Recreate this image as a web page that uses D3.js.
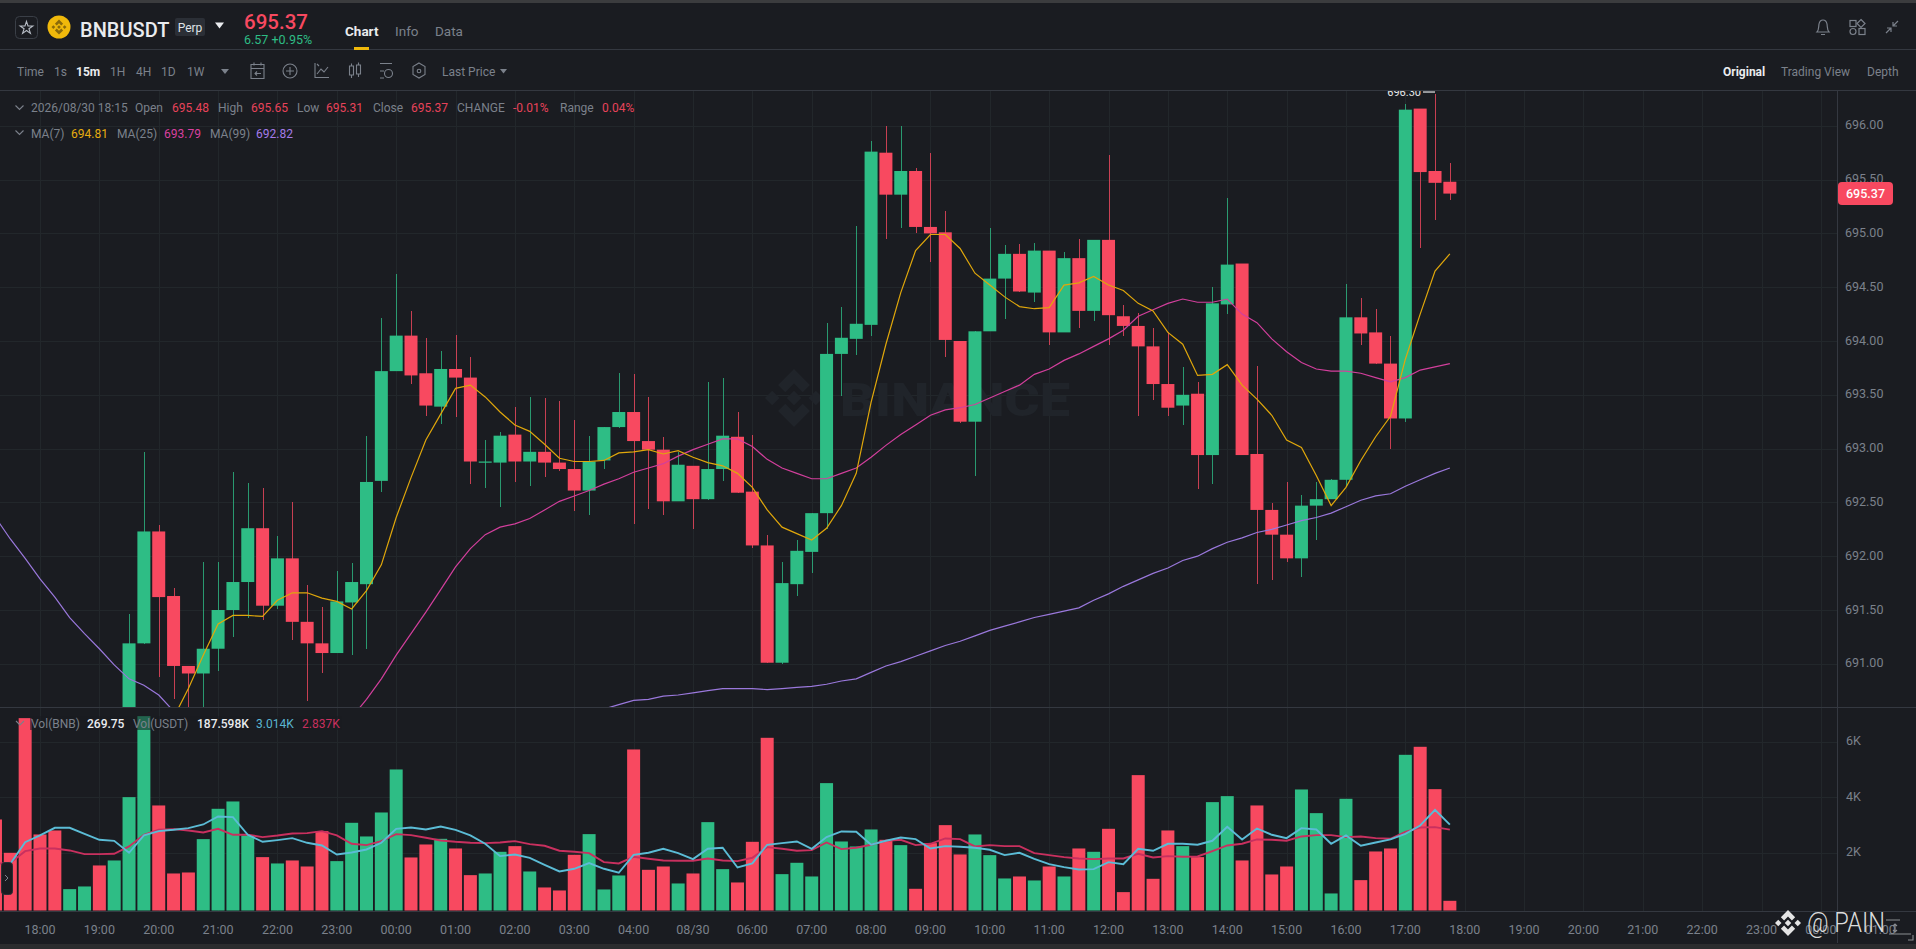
<!DOCTYPE html>
<html><head><meta charset="utf-8">
<script src="https://cdn.jsdelivr.net/npm/d3@7"></script>
<style>html,body{margin:0;padding:0;background:#1a1c21;overflow:hidden}svg{display:block}text{font-family:Roboto,sans-serif}</style>
</head><body><svg id="c" width="1916" height="949"></svg>
<script>
// candles start at 19:30 (slot 6 of the axis); earlier ones lie below the visible price range
const candleStart = 6;
const opens = [690.38,691.19,692.23,691.63,690.98,690.91,691.14,691.50,691.76,692.26,691.54,691.98,691.39,691.19,691.10,691.57,691.74,692.70,693.72,694.05,693.70,693.39,693.74,693.66,692.87,692.87,693.13,692.88,692.97,692.87,692.81,692.61,692.89,693.20,693.34,693.07,692.99,692.51,692.84,692.53,692.81,693.11,692.60,692.10,691.01,691.74,692.04,692.40,693.88,694.02,694.15,695.75,695.36,695.58,695.06,695.01,694.00,693.25,694.09,694.58,694.81,694.45,694.84,694.08,694.77,694.28,694.94,694.23,694.14,693.95,693.60,693.40,693.51,692.94,694.34,694.72,692.95,692.43,692.20,691.98,692.47,692.53,692.71,694.22,694.08,693.79,693.28,696.16,695.58,695.48];
const highs = [691.46,692.97,692.29,691.70,690.98,691.95,691.95,692.78,692.68,692.63,692.19,692.50,691.73,691.53,691.86,691.94,693.12,694.21,694.62,694.28,694.03,693.91,694.06,693.85,693.08,693.15,693.39,693.48,693.47,693.44,693.27,693.12,693.20,693.70,693.69,693.48,693.11,692.97,692.84,693.62,693.66,693.34,693.13,692.20,691.95,692.15,692.40,694.17,694.32,695.07,695.86,696.00,696.00,695.61,695.75,695.21,694.00,694.09,695.05,694.89,694.90,694.91,694.84,694.83,694.95,694.94,695.73,694.33,694.26,694.12,694.08,693.76,693.62,694.50,695.33,694.72,693.77,692.49,692.69,692.57,692.69,692.72,694.53,694.40,694.30,694.05,696.20,696.16,696.30,695.65];
const lows = [690.26,691.18,690.88,690.67,690.50,690.44,690.93,691.25,691.43,691.41,691.51,691.22,690.65,690.91,691.10,691.08,691.14,692.60,693.72,693.60,693.30,693.23,693.29,692.67,692.63,692.46,692.69,692.65,692.74,692.79,692.42,692.38,692.81,693.19,692.30,692.44,692.38,692.51,692.25,692.52,692.70,692.59,692.08,691.01,691.00,691.63,691.84,692.25,693.49,693.87,694.05,694.95,695.05,695.00,694.73,693.85,693.24,692.75,694.09,694.20,694.46,694.36,693.96,694.08,694.12,694.19,693.96,694.05,693.30,693.45,693.30,693.22,692.62,692.67,694.25,692.94,691.74,691.78,691.95,691.81,692.15,692.53,692.64,693.96,693.79,693.00,693.25,694.86,695.12,695.31];
const closes = [691.19,692.23,691.62,690.98,690.91,691.14,691.50,691.76,692.26,691.54,691.98,691.39,691.19,691.10,691.58,691.76,692.69,693.72,694.05,693.68,693.40,693.74,693.66,692.88,692.88,693.12,692.88,692.97,692.87,692.81,692.61,692.88,693.20,693.34,693.07,692.99,692.51,692.85,692.53,692.81,693.12,692.59,692.10,691.01,691.75,692.05,692.40,693.88,694.03,694.16,695.76,695.36,695.58,695.06,695.00,694.01,693.25,694.09,694.58,694.81,694.46,694.84,694.08,694.77,694.28,694.94,694.24,694.14,693.95,693.60,693.38,693.50,692.94,694.35,694.71,692.94,692.43,692.20,691.98,692.47,692.53,692.71,694.22,694.07,693.79,693.28,696.15,695.57,695.47,695.37];

const ma7Start = 9;
const ma7 = [690.50,690.77,691.08,691.37,691.45,691.45,691.44,691.59,691.66,691.66,691.61,691.58,691.51,691.68,691.92,692.36,692.73,693.08,693.32,693.56,693.59,693.48,693.34,693.22,693.16,693.04,692.91,692.88,692.88,692.89,692.96,692.97,692.99,692.95,692.98,692.92,692.87,692.84,692.77,692.64,692.43,692.27,692.21,692.15,692.26,692.47,692.77,693.43,693.97,694.45,694.84,694.99,694.99,694.86,694.63,694.52,694.41,694.32,694.30,694.31,694.52,694.54,694.60,694.52,694.47,694.35,694.28,694.08,693.97,693.68,693.69,693.78,693.59,693.46,693.31,693.08,693.01,692.75,692.47,692.64,692.89,693.11,693.30,693.83,694.25,694.65,694.81];
const ma25Start = 21;
const ma25 = [690.50,690.67,690.86,691.08,691.28,691.48,691.69,691.90,692.07,692.20,692.27,692.30,692.35,692.43,692.51,692.56,692.61,692.67,692.72,692.78,692.82,692.86,692.93,692.99,693.04,693.09,693.09,693.02,692.90,692.82,692.77,692.72,692.72,692.77,692.82,692.92,693.03,693.13,693.22,693.31,693.36,693.38,693.41,693.47,693.53,693.59,693.69,693.74,693.82,693.88,693.95,694.02,694.10,694.23,694.29,694.35,694.39,694.36,694.36,694.39,694.25,694.17,694.02,693.90,693.80,693.74,693.72,693.72,693.70,693.66,693.62,693.66,693.73,693.76,693.79];
// MA(99) leaves the visible range between 20:15 and 03:30: no reading there
const ma99Start = -3;
const ma99 = [692.36,692.16,691.98,691.79,691.62,691.43,691.28,691.14,690.99,690.86,690.80,690.71,690.56,
  null,null,null,null,null,null,null,null,null,null,null,null,null,null,null,null,null,null,null,null,null,null,null,null,null,null,null,null,
  690.58,690.62,690.66,690.67,690.70,690.71,690.73,690.75,690.77,690.77,690.77,690.76,690.77,690.78,690.79,690.81,690.84,690.86,690.92,690.98,691.02,691.07,691.12,691.17,691.21,691.26,691.31,691.35,691.39,691.43,691.46,691.49,691.52,691.59,691.65,691.72,691.78,691.84,691.89,691.96,692.00,692.07,692.13,692.17,692.22,692.25,692.29,692.33,692.36,692.40,692.46,692.52,692.56,692.58,692.65,692.71,692.77,692.82];

const volStart = -3;
const volumes = [3201,2000,6853,2661,2805,691,787,1544,1724,4006,6925,3706,1255,1291,2493,3586,3850,2625,1844,1616,1724,1507,2781,1700,3081,2589,3453,5003,1832,2300,2504,2156,1195,1255,2036,2240,1327,751,643,1928,2673,679,1183,5724,1387,1507,895,1255,3105,1411,931,2396,6144,1231,1640,1147,4511,2408,2228,2841,2468,2276,703,2348,2997,1940,2661,1916,1075,1147,1003,1507,1147,2156,2036,2865,583,4799,1063,2805,2240,1844,3826,4042,1724,3706,1219,1507,4282,3429,535,3946,1015,2048,2156,5531,5820,4294,270];
// direction of the volume bars before the first visible candle
const earlyUp = [false,false,false,false,false,true,true,false,true];
const volBlueStart = -2;
const volBlue = [1604,2384,2625,2901,2901,2685,2468,2432,2001,2625,2781,2829,2889,3021,3310,3286,2649,2397,2457,2529,2361,2265,1940,2012,2120,2361,2865,2913,2841,2949,2829,2625,2325,1880,1940,1820,1568,1328,1424,1628,1424,1280,1928,2001,2145,1988,1772,2145,2181,1472,1616,2289,2349,2409,2145,2565,2769,2757,2289,2433,2553,2493,2157,2241,2217,2181,2109,1916,2001,1784,1592,1484,1400,1412,1664,1592,2145,2073,2325,2325,2289,2433,2937,2481,2877,2649,2529,2889,2841,2325,2625,2253,2373,2481,2685,2985,3550,3014];
const volRedStart = -3;
const volRed = [1604,1640,2060,2157,2157,2085,1952,1952,1964,2229,2649,2829,2853,2805,2733,2865,2649,2649,2565,2625,2697,2709,2781,2625,2325,2277,2421,2673,2637,2541,2445,2397,2361,2349,2373,2421,2313,2253,2073,2037,1988,1664,1616,1856,1784,1724,1712,1712,1796,1724,1700,1820,2205,2145,2073,2097,2373,2133,2181,2289,2433,2469,2277,2325,2517,2493,2229,2277,2241,2241,1988,1916,1844,1796,1772,1796,1796,1964,1832,1880,1856,1868,2060,2265,2325,2481,2469,2433,2589,2637,2637,2565,2589,2529,2505,2757,2913,2925,2837];

const priceTicks = [696,695.5,695,694.5,694,693.5,693,692.5,692,691.5,691];
const volTicks = [2000,4000,6000];
const timeLabels = ['18:00','19:00','20:00','21:00','22:00','23:00','00:00','01:00','02:00','03:00','04:00','08/30','06:00','07:00','08:00','09:00','10:00','11:00','12:00','13:00','14:00','15:00','16:00','17:00','18:00','19:00','20:00','21:00','22:00','23:00','00:00','01:00'];

const lastPrice = 695.37;
const C = {bg:'#1a1c21',grid:'#22272b',sep:'#343840',up:'#2ebd85',down:'#f84960',mute:'#7b818b',white:'#eaecef',
  m7:'#e0a70b',m25:'#d23f9c',m99:'#9a78dc',vb:'#5bbcd6',vr:'#c9305f',
  lm7:'#e6ac10',lm25:'#d9409f',lm99:'#a47be8'};

const svg = d3.select('#c');
const x = d3.scaleLinear().domain([0,96]).range([40,1464.7]);
const y = d3.scaleLinear().domain([691,696]).range([663.8,125.8]);
const yV = d3.scaleLinear().domain([0,6000]).range([908.3,741.8]);
const P = {top:90,bottom:707,right:1837,vBottom:911,tBottom:944};

svg.append('rect').attr('width',1916).attr('height',949).attr('fill',C.bg);
svg.append('rect').attr('width',1916).attr('height',3).attr('fill','#3b3c3e');
svg.append('rect').attr('y',P.tBottom).attr('width',1916).attr('height',5).attr('fill','#2b2c2e');

const defs = svg.append('defs');
defs.append('clipPath').attr('id','pp').append('rect').attr('x',0).attr('y',P.top).attr('width',P.right).attr('height',P.bottom-P.top);
defs.append('clipPath').attr('id','vp').append('rect').attr('x',0).attr('y',P.bottom).attr('width',P.right).attr('height',P.vBottom-P.bottom);

// grid
const grid = svg.append('g').attr('stroke',C.grid).attr('stroke-width',1).attr('shape-rendering','crispEdges');
timeLabels.forEach((t,k)=>{const X=Math.round(x(k*4))+.5; if(X<P.right) grid.append('line').attr('x1',X).attr('x2',X).attr('y1',P.top).attr('y2',P.vBottom);});
priceTicks.forEach(t=>grid.append('line').attr('x1',0).attr('x2',P.right).attr('y1',Math.round(y(t))+.5).attr('y2',Math.round(y(t))+.5));
volTicks.forEach(t=>grid.append('line').attr('x1',0).attr('x2',P.right).attr('y1',Math.round(yV(t))+.5).attr('y2',Math.round(yV(t))+.5));

// Binance mark
function mark(g,cx,cy,s,fill){
  const polys=[[[0,-.25],[.25,0],[0,.25],[-.25,0]],[[-1,0],[-.75,-.25],[-.5,0],[-.75,.25]],[[1,0],[.75,-.25],[.5,0],[.75,.25]],
   [[0,-1],[.55,-.45],[.3,-.2],[0,-.5],[-.3,-.2],[-.55,-.45]],[[0,1],[.55,.45],[.3,.2],[0,.5],[-.3,.2],[-.55,.45]]];
  polys.forEach(p=>g.append('polygon').attr('points',p.map(q=>[cx+q[0]*s,cy+q[1]*s].join(',')).join(' ')).attr('fill',fill));
}
mark(svg,794,398,29,'#20242a');
svg.append('text').attr('x',840).attr('y',416).attr('font-size',46).attr('font-weight',900).attr('fill','#20242a').attr('textLength',230).attr('lengthAdjust','spacingAndGlyphs').text('BINANCE');

// volume
const vol = svg.append('g').attr('clip-path','url(#vp)');
const bw = 13;
function isUp(slot){const k=slot-candleStart; return k>=0 ? closes[k]>=opens[k] : earlyUp[slot-volStart];}
vol.selectAll('rect').data(volumes).join('rect')
  .attr('x',(d,i)=>x(i+volStart)-bw/2).attr('width',bw)
  .attr('y',d=>yV(d)).attr('height',d=>910.5-yV(d))
  .attr('fill',(d,i)=>isUp(i+volStart)?C.up:C.down);
const vLine=(start)=>d3.line().x((d,i)=>x(i+start)).y(d=>yV(d));
vol.append('path').attr('d',vLine(volRedStart)(volRed)).attr('fill','none').attr('stroke',C.vr).attr('stroke-width',1.9);
vol.append('path').attr('d',vLine(volBlueStart)(volBlue)).attr('fill','none').attr('stroke',C.vb).attr('stroke-width',1.9);

// candles
const pr = svg.append('g').attr('clip-path','url(#pp)');
const idx = d3.range(opens.length);
pr.selectAll('line.w').data(idx).join('line').attr('class','w')
  .attr('x1',i=>Math.round(x(i+candleStart))+.5).attr('x2',i=>Math.round(x(i+candleStart))+.5)
  .attr('y1',i=>y(highs[i])).attr('y2',i=>y(lows[i]))
  .attr('stroke',i=>closes[i]>=opens[i]?C.up:C.down).attr('stroke-opacity',.78).attr('shape-rendering','crispEdges');
pr.selectAll('rect.b').data(idx).join('rect').attr('class','b')
  .attr('x',i=>x(i+candleStart)-bw/2).attr('width',bw)
  .attr('y',i=>y(Math.max(opens[i],closes[i])))
  .attr('height',i=>Math.max(1.2,Math.abs(y(opens[i])-y(closes[i]))))
  .attr('fill',i=>closes[i]>=opens[i]?C.up:C.down);
const pLine=(start)=>d3.line().defined(d=>d!==null).x((d,i)=>x(i+start)).y(d=>y(d));
pr.append('path').attr('d',pLine(ma99Start)(ma99)).attr('fill','none').attr('stroke',C.m99).attr('stroke-width',1.2);
pr.append('path').attr('d',pLine(ma25Start)(ma25)).attr('fill','none').attr('stroke',C.m25).attr('stroke-width',1.2);
pr.append('path').attr('d',pLine(ma7Start)(ma7)).attr('fill','none').attr('stroke',C.m7).attr('stroke-width',1.2);

// highest price marker
const hiIdx = d3.maxIndex(highs);
const hiG = svg.append('g').attr('clip-path','url(#pp)');
hiG.append('line').attr('x1',x(hiIdx+candleStart)-12).attr('x2',x(hiIdx+candleStart)).attr('y1',y(highs[hiIdx])-1.5).attr('y2',y(highs[hiIdx])-1.5).attr('stroke','#e6e8ea').attr('stroke-width',1.2);
hiG.append('text').attr('x',x(hiIdx+candleStart)-14).attr('y',y(highs[hiIdx])+2).attr('text-anchor','end').attr('font-size',11).attr('fill','#e6e8ea').text(d3.format('.2f')(highs[hiIdx]));

// frame lines
const fr = svg.append('g').attr('stroke',C.sep).attr('shape-rendering','crispEdges');
[[0,1916,49.5,49.5],[0,1916,90.5,90.5],[0,1916,707.5,707.5],[0,1916,911.5,911.5],[P.right+.5,P.right+.5,P.top,943]].forEach(l=>
  fr.append('line').attr('x1',l[0]).attr('x2',l[1]).attr('y1',l[2]).attr('y2',l[3]));

// axis labels
const T=(tx,ty,s,o={})=>svg.append('text').attr('x',tx).attr('y',ty).attr('dominant-baseline','central')
  .attr('font-size',o.size||12).attr('font-weight',o.w||400).attr('fill',o.fill||C.mute).attr('text-anchor',o.anchor||'start').text(s);
priceTicks.forEach(t=>T(1845,y(t)-1,d3.format('.2f')(t),{size:12.5}));
volTicks.forEach(t=>T(1846,yV(t)-1,(t/1000)+'K',{size:12.5}));
timeLabels.forEach((t,k)=>T(x(k*4),929,t,{anchor:'middle',size:12.5}));

// last price tag
svg.append('rect').attr('x',1838).attr('y',y(lastPrice)-11.5).attr('width',55).attr('height',23).attr('rx',4).attr('fill',C.down);
T(1865.5,y(lastPrice),d3.format('.2f')(lastPrice),{anchor:'middle',fill:'#fff',w:500,size:12.5});

// header
const iconS='#7b818b';
svg.append('rect').attr('x',15.5).attr('y',16.5).attr('width',22).attr('height',22).attr('rx',4).attr('fill','none').attr('stroke','#3a3f47');
svg.append('path').attr('d',d3.symbol(d3.symbolStar,50)()).attr('transform','translate(26.5,28)').attr('fill','none').attr('stroke','#b7bdc6').attr('stroke-width',1.1);
svg.append('circle').attr('cx',59).attr('cy',27).attr('r',11.5).attr('fill','#f0b90b');
mark(svg,59,27,7.5,'#8a6a0a');
T(80,29.5,'BNBUSDT',{size:20,w:500,fill:'#eaecef'});
svg.append('rect').attr('x',175).attr('y',18).attr('width',30).attr('height',18).attr('rx',2).attr('fill','#2b2f36');
T(190,27.5,'Perp',{size:12,anchor:'middle',fill:'#dfe2e6'});
svg.append('path').attr('d','M215 22.500h9l-4.500 6z').attr('fill','#eaecef');
T(244,21.5,'695.37',{size:20.5,w:500,fill:C.down});
T(244,39.5,'6.57 +0.95%',{size:12.5,fill:C.up});
T(345,30.5,'Chart',{size:13.5,w:700,fill:'#eaecef'});
T(395,30.5,'Info',{size:13.5});
T(435,30.5,'Data',{size:13.5});
svg.append('rect').attr('x',354).attr('y',47).attr('width',15).attr('height',3).attr('fill','#f0b90b');
// right header icons
const ic=svg.append('g').attr('fill','none').attr('stroke',iconS).attr('stroke-width',1.2);
ic.append('path').attr('d','M1817 32c2-2 1.500-5 2-8 .5-2.500 2-4 4-4s3.500 1.500 4 4c.5 3 0 6 2 8zM1821 34.500h4');
ic.append('rect').attr('x',1850).attr('y',20.5).attr('width',6).attr('height',6);
ic.append('path').attr('d','M1861 19.500l4 4-4 4-4-4z');
ic.append('circle').attr('cx',1853).attr('cy',31.5).attr('r',3);
ic.append('rect').attr('x',1859).attr('y',28.500).attr('width',6).attr('height',6);
ic.append('path').attr('d','M1898 21l-5 5m0-4v4h4M1886 33l5-5m0 4v-4h-4');

// toolbar
T(17,71.5,'Time');T(54,71.5,'1s');T(76,71.5,'15m',{w:700,fill:'#eaecef'});
[['1H',110],['4H',136],['1D',161],['1W',187]].forEach(d=>T(d[1],71.5,d[0]));
svg.append('path').attr('d','M221 69h8l-4 5z').attr('fill',iconS);
const tb=svg.append('g').attr('fill','none').attr('stroke',iconS).attr('stroke-width',1.1);
tb.append('path').attr('d','M251 64.500h13v14h-13zM251 68.500h13M254 62.500v3M261 62.500v3M261 73.500h-6m2-2l-2 2 2 2');
tb.append('circle').attr('cx',290).attr('cy',71).attr('r',7);
tb.append('path').attr('d','M286 71h8M290 67v8');
tb.append('path').attr('d','M315 63v14.500h14M317 74l4-5 3 3 4-5M317 64l2 2');
tb.append('path').attr('d','M349.500 66h4v9h-4zM351.500 63.500v2.500M351.500 75v3M356.500 65h4v9h-4zM358.500 62.500v2.500M358.500 74v3');
tb.append('path').attr('d','M380 63.500h12M380 71h4M380 78h4');
tb.append('circle').attr('cx',388.500).attr('cy',73.500).attr('r',4);
tb.append('path').attr('d','M419 63l6 3.500v8l-6 3.500-6-3.500v-8z');
tb.append('circle').attr('cx',419).attr('cy',71).attr('r',1.8);
T(442,71.5,'Last Price');
svg.append('path').attr('d','M500 69h7l-3.500 4.500z').attr('fill',iconS);
T(1723,71.5,'Original',{w:700,fill:'#eaecef'});
T(1781,71.5,'Trading View');
T(1867,71.5,'Depth');

// legends
svg.append('path').attr('d','M15.500 105.500l4 4 4-4M15.500 130.500l4 4 4-4').attr('fill','none').attr('stroke',iconS).attr('stroke-width',1.1);
[['2026/08/30 18:15',31],['Open',135],['High',218],['Low',297],['Close',373],['CHANGE',457],['Range',560]].forEach(d=>T(d[1],108,d[0]));
[['695.48',172],['695.65',251],['695.31',326],['695.37',411],['-0.01%',513],['0.04%',602]].forEach(d=>T(d[1],108,d[0],{fill:'#e8435a'}));
T(31,133.5,'MA(7)');T(71,133.5,'694.81',{fill:C.lm7});
T(117,133.5,'MA(25)');T(164,133.5,'693.79',{fill:C.lm25});
T(210,133.5,'MA(99)');T(256,133.5,'692.82',{fill:C.lm99});

svg.append('rect').attr('x',30).attr('y',716).attr('width',312).attr('height',14).attr('fill',C.bg).attr('fill-opacity',.55);
svg.append('path').attr('d','M16 721l4 4 4-4').attr('fill','none').attr('stroke',iconS).attr('stroke-width',1.1);
T(31,723.5,'Vol(BNB)');T(87,723.5,'269.75',{fill:'#eaecef',w:500});
T(133,723.5,'Vol(USDT)');T(197,723.5,'187.598K',{fill:'#eaecef',w:500});
T(256,723.5,'3.014K',{fill:'#5ab6d2'});T(302,723.5,'2.837K',{fill:'#c9305f'});

// collapse handle
svg.append('rect').attr('x',1.5).attr('y',862.5).attr('width',11).attr('height',32).attr('rx',3).attr('fill','#1a1c21').attr('stroke','#2b2f36');
svg.append('path').attr('d','M5 875l3 3-3 3').attr('fill','none').attr('stroke',iconS);

// bottom-right mark
mark(svg,1788,923,13,'#e4e4e4');
svg.append('text').attr('x',1807).attr('y',932).attr('font-size',27).attr('font-weight',300).attr('fill','#dcdcdc').attr('textLength',78).attr('lengthAdjust','spacingAndGlyphs').text('@ PAIN');
svg.append('path').attr('d','M1886 920h14M1889 934h22M1895 924v8M1893 926l2-2 2 2M1893 930l2 2 2-2M1908 940h5v-5').attr('fill','none').attr('stroke','#8a8d92').attr('stroke-width',1.1);
</script></body></html>
